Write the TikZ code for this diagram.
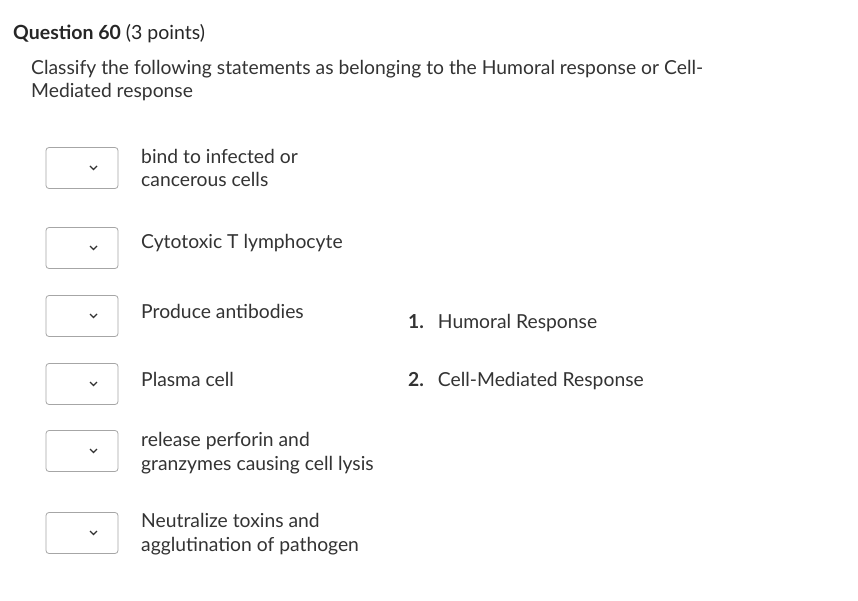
\documentclass[tikz,border=0pt]{standalone}
\usepackage{fontspec}
\setmainfont{Lato}
\begin{document}
\begin{tikzpicture}[x=1pt,y=-1pt,
  txt/.style={anchor=west,inner sep=0pt,font=\fontsize{19.3}{23.5}\selectfont,text=black!80,align=left},
  dd/.style={draw=black!35,rounded corners=3pt,minimum width=72pt,minimum height=41pt,inner sep=0pt,line width=0.8pt}]
\useasboundingbox[fill=white] (0,0) rectangle (858,601);
\node[txt,font=\fontsize{19.5}{20}\selectfont,text=black!85] (q) at (13,34) {\textbf{Question 60} (3 points)};
\node[txt,anchor=north west] (cl) at (31,60) {Classify the following statements as belonging to the Humoral response or Cell-\\Mediated response};
\foreach \n/\y/\t in {a/168/{bind to infected or\\cancerous cells},b/248/{Cytotoxic T lymphocyte},c/316/{Produce antibodies},d/384/{Plasma cell},e/451/{release perforin and\\granzymes causing cell lysis},f/533/{Neutralize toxins and\\agglutination of pathogen}}{
  \node[dd] (box\n) at (82,\y) {};
  \draw[line width=1.3pt,black!80] ([xshift=8pt,yshift=2pt]box\n.center) -- ++(3.5,3.5) -- ++(3.5,-3.5);
}
\node[txt] (ta) at (141,168) {bind to infected or\\cancerous cells};
\node[txt] (tb) at (141,243) {Cytotoxic T lymphocyte};
\node[txt] (tc) at (141,311) {Produce antibodies};
\node[txt] (td) at (141,379) {Plasma cell};
\node[txt] (te) at (141,453) {release perforin and\\granzymes causing cell lysis};
\node[txt] (tf) at (141,534) {Neutralize toxins and\\agglutination of pathogen};
\node[txt] (o1) at (408,323) {\textbf{1.}\hspace{14pt}Humoral Response};
\node[txt] (o2) at (408,381) {\textbf{2.}\hspace{14pt}Cell-Mediated Response};
\end{tikzpicture}
\end{document}
